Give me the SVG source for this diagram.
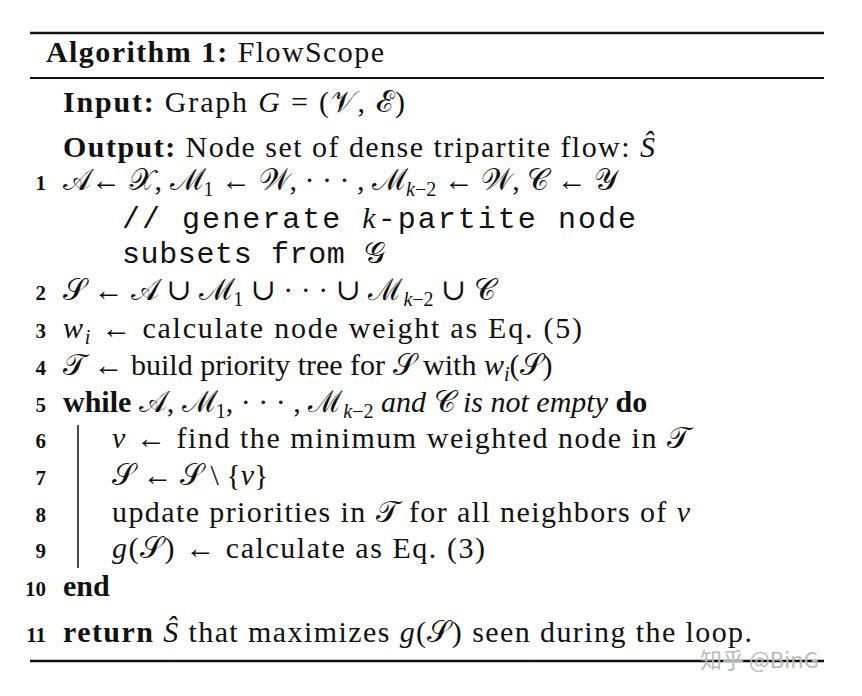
<svg xmlns="http://www.w3.org/2000/svg" width="862" height="696" viewBox="0 0 862 696">
<style>
text{font-family:"Liberation Serif","DejaVu Serif",serif;font-size:30px;fill:#111}
.n{font-weight:bold;font-size:21px;text-anchor:end}
.b{font-weight:bold}
.i{font-style:italic}
.m{font-family:"Liberation Mono",monospace;font-size:30px;font-weight:300}
.wm{font-family:"Noto Sans CJK SC","Liberation Sans",sans-serif;font-size:22px;fill:#bbb}
</style>
<rect width="862" height="696" fill="#fff"/>
<line x1="30" y1="33" x2="824" y2="33" stroke="#111" stroke-width="2.5"/>
<line x1="30" y1="78" x2="824" y2="78" stroke="#111" stroke-width="1.8"/>
<line x1="30" y1="661" x2="824" y2="661" stroke="#111" stroke-width="2.5"/>
<text x="46" y="62" textLength="338" lengthAdjust="spacing"><tspan class="b">Algorithm 1:</tspan> FlowScope</text>
<text x="63" y="112" textLength="342" lengthAdjust="spacing"><tspan class="b">Input:</tspan> Graph <tspan class="i">G</tspan> = (𝒱, ℰ)</text>
<text x="63" y="157" textLength="592" lengthAdjust="spacing"><tspan class="b">Output:</tspan> Node set of dense tripartite flow: <tspan class="i">Ŝ</tspan></text>
<text class="n" x="46" y="190">1</text>
<text x="63" y="190">𝒜← 𝒳, ℳ<tspan font-size="20" dy="6">1</tspan><tspan dy="-6"> ← 𝒲, · · · , ℳ</tspan><tspan font-size="20" dy="6" class="i">k</tspan><tspan font-size="20">−2</tspan><tspan dy="-6"> ← 𝒲, 𝒞 ← 𝒴</tspan></text>
<text class="m" x="122" y="228" textLength="514" lengthAdjust="spacing">// generate <tspan class="i" font-family="Liberation Serif">k</tspan>-partite node</text>
<text class="m" x="122" y="263" textLength="263" lengthAdjust="spacing">subsets from <tspan font-family="Liberation Serif">𝒢</tspan></text>
<text class="n" x="46" y="300">2</text>
<text x="63" y="300">𝒮 ← 𝒜 ∪ ℳ<tspan font-size="20" dy="6">1</tspan><tspan dy="-6"> ∪ · · · ∪ ℳ</tspan><tspan font-size="20" dy="6" class="i">k</tspan><tspan font-size="20">−2</tspan><tspan dy="-6"> ∪ 𝒞</tspan></text>
<text class="n" x="46" y="338">3</text>
<text x="63" y="338" textLength="519" lengthAdjust="spacing"><tspan class="i">w</tspan><tspan font-size="20" dy="6" class="i">i</tspan><tspan dy="-6"> ← calculate node weight as Eq.  (5)</tspan></text>
<text class="n" x="46" y="375">4</text>
<text x="63" y="375">𝒯 ← build priority tree for 𝒮 with <tspan class="i">w</tspan><tspan font-size="20" dy="6" class="i">i</tspan><tspan dy="-6">(𝒮)</tspan></text>
<text class="n" x="46" y="412">5</text>
<text x="63" y="412"><tspan class="b">while</tspan> 𝒜, ℳ<tspan font-size="20" dy="6">1</tspan><tspan dy="-6">, · · · , ℳ</tspan><tspan font-size="20" dy="6" class="i">k</tspan><tspan font-size="20">−2</tspan><tspan dy="-6" class="i"> and </tspan>𝒞<tspan class="i"> is not empty </tspan><tspan class="b">do</tspan></text>
<line x1="78" y1="425" x2="78" y2="568" stroke="#111" stroke-width="1.5"/>
<text class="n" x="46" y="448">6</text>
<text x="112" y="448" textLength="578" lengthAdjust="spacing"><tspan class="i">v</tspan> ← find the minimum weighted node in 𝒯</text>
<text class="n" x="46" y="485">7</text>
<text x="112" y="485">𝒮 ← 𝒮 \ {<tspan class="i">v</tspan>}</text>
<text class="n" x="46" y="522">8</text>
<text x="112" y="522" textLength="578" lengthAdjust="spacing">update priorities in 𝒯 for all neighbors of <tspan class="i">v</tspan></text>
<text class="n" x="46" y="558">9</text>
<text x="112" y="558" textLength="373" lengthAdjust="spacing"><tspan class="i">g</tspan>(𝒮) ← calculate as Eq. (3)</text>
<text class="n" x="46" y="596">10</text>
<text x="63" y="596" class="b">end</text>
<text class="n" x="46" y="642">11</text>
<text x="63" y="642" textLength="689" lengthAdjust="spacing"><tspan class="b">return</tspan> <tspan class="i">Ŝ</tspan> that maximizes <tspan class="i">g</tspan>(𝒮) seen during the loop.</text>
<text class="wm" x="700" y="668">知乎 @BinG</text>
</svg>
